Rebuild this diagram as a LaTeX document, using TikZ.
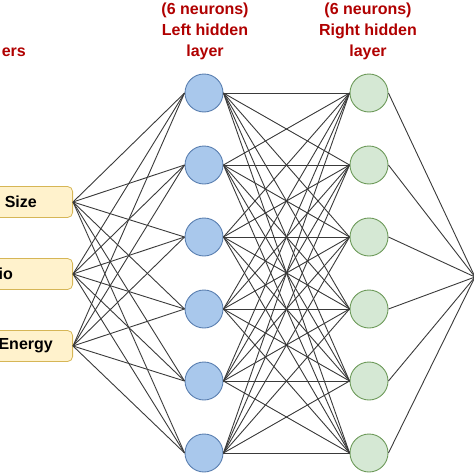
\documentclass[tikz,border=0pt]{standalone}
\usepackage{fontspec}
\setmainfont{Liberation Sans}
\usetikzlibrary{positioning}
\definecolor{titlered}{HTML}{B00000}
\definecolor{boxfill}{HTML}{FFF2CC}
\definecolor{boxline}{HTML}{D6B656}
\definecolor{bluefill}{HTML}{A9C8EC}
\definecolor{blueline}{HTML}{5A7FB0}
\definecolor{greenfill}{HTML}{D5E8D4}
\definecolor{greenline}{HTML}{6D9A5A}
\definecolor{wire}{HTML}{3A3A3A}

\begin{document}
\begin{tikzpicture}[
    x=1pt, y=-1pt,
    title/.style={align=center, text=titlered, font=\fontsize{16}{21}\selectfont\bfseries},
    inbox/.style={draw=boxline, fill=boxfill, rectangle, rounded corners=5pt, minimum height=31pt, minimum width=150pt, line width=0.8pt},
    intext/.style={font=\fontsize{16}{19}\selectfont\bfseries, inner sep=0pt},
    neuronL/.style={draw=blueline, fill=bluefill, circle, minimum size=38pt, inner sep=0pt, line width=0.9pt},
    neuronR/.style={draw=greenline, fill=greenfill, circle, minimum size=38pt, inner sep=0pt, line width=0.9pt},
    wire/.style={draw=wire, line width=0.9pt}
]
\useasboundingbox (0,0) rectangle (474,474);
\clip (0,0) rectangle (474,474);

% Titulos
\node (tin) [intext, text=titlered, anchor=east] at (26,52) {ers};
\node (tleft) [title] at (205,31) {(6 neurons)\\Left hidden\\layer};
\node (tright) [title] at (368,31) {(6 neurons)\\Right hidden\\layer};

% Entradas
\node (in1) [inbox, anchor=east] at (73,202) {};
\node (in2) [inbox, anchor=east] at (73,274) {};
\node (in3) [inbox, anchor=east] at (73,346) {};
\node (in1txt) [intext, anchor=east] at (37,202) {Size};
\node (in2txt) [intext, anchor=east] at (13,274) {io};
\node (in3txt) [intext, anchor=east] at (53,346) {Energy};

% Capas ocultas
\foreach \i/\y in {1/93,2/165,3/237,4/309,5/381,6/453} {
  \node (h\i) [neuronL] at (204,\y) {};
  \node (r\i) [neuronR] at (369,\y) {};
}

% Salida
\coordinate (out) at (475,277);

% Conexiones
\foreach \a in {1,2,3}
  \foreach \b in {1,...,6}
    \draw [wire] (in\a.east) -- (h\b.west);
\foreach \a in {1,...,6}
  \foreach \b in {1,...,6}
    \draw [wire] (h\a.east) -- (r\b.west);
\foreach \a in {1,...,6}
  \draw [wire] (r\a.east) -- (out);

\end{tikzpicture}
\end{document}
